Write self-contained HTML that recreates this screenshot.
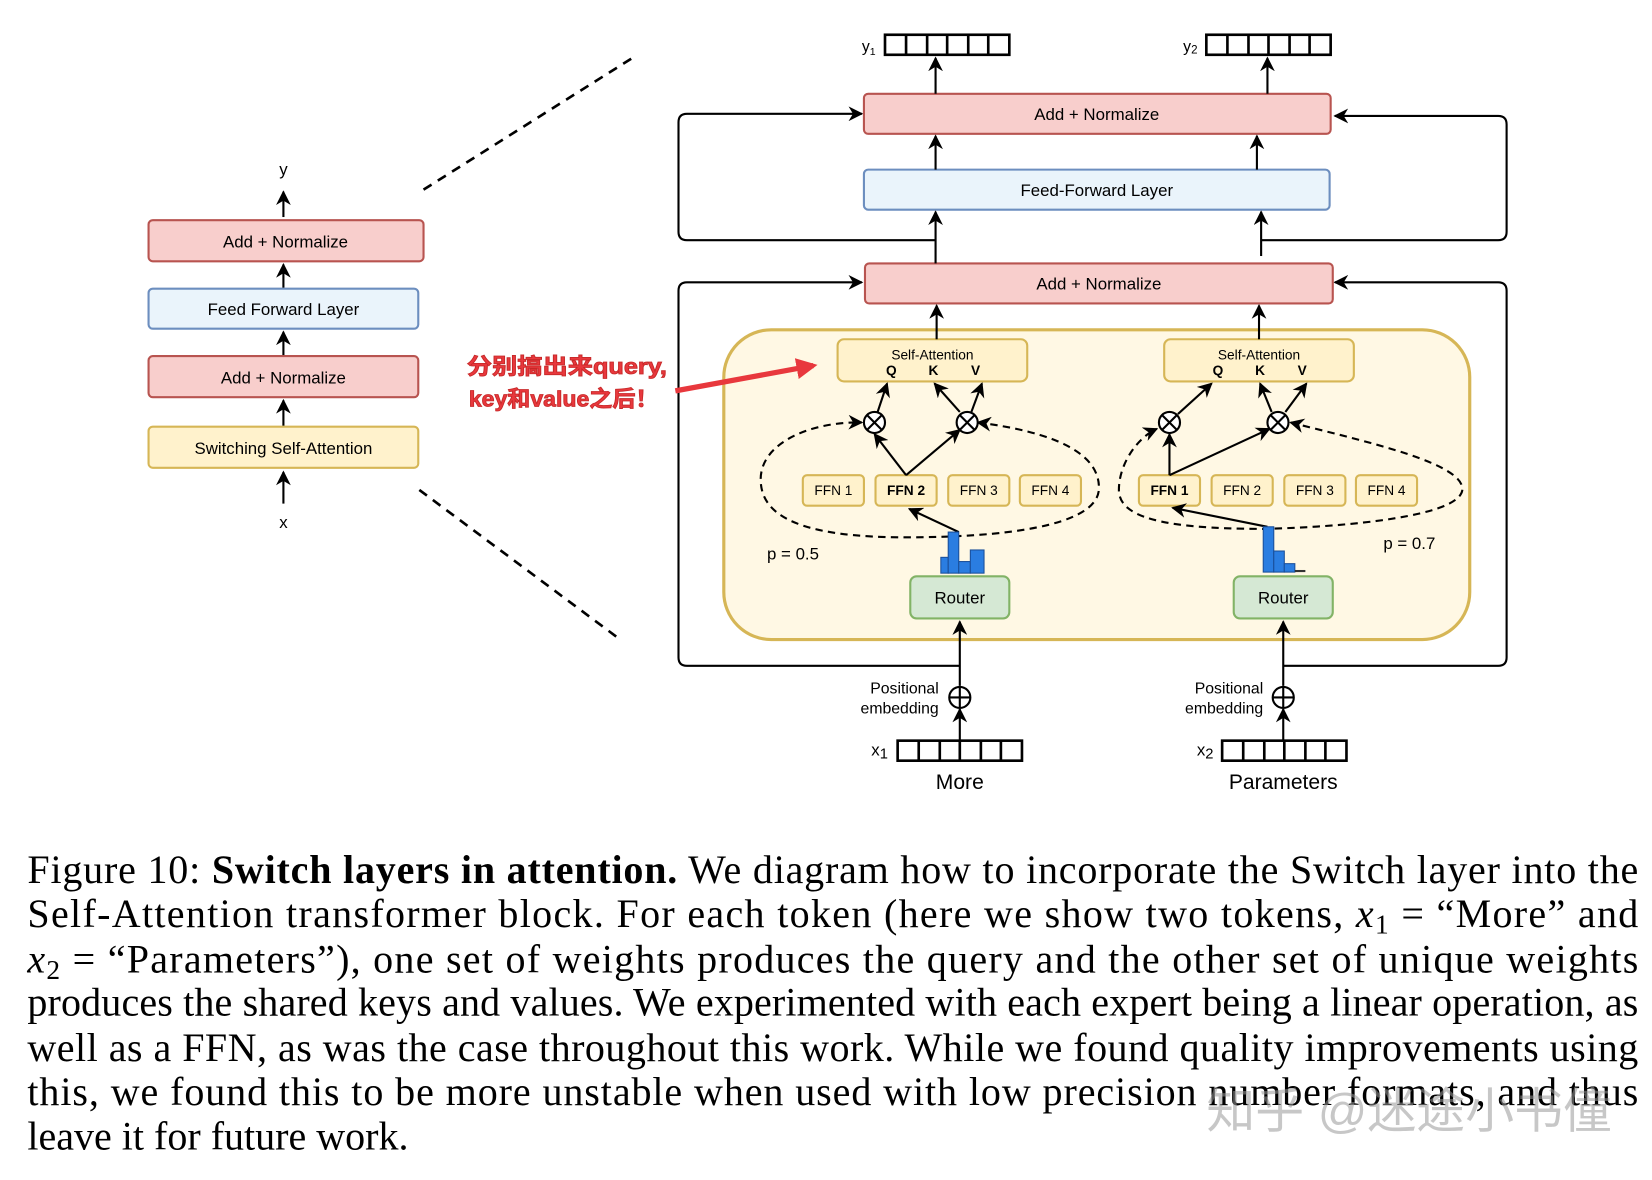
<!DOCTYPE html>
<html><head><meta charset="utf-8"><style>html,body{margin:0;padding:0;background:#fff}svg{display:block}</style></head>
<body>
<svg width="1652" height="1180" viewBox="0 0 1568 1120" preserveAspectRatio="none" xmlns="http://www.w3.org/2000/svg" font-family="Liberation Sans, sans-serif">
<defs>
<marker id="a" viewBox="0 0 10 10" refX="9" refY="5" markerWidth="7" markerHeight="7" orient="auto-start-reverse"><path d="M0,0 L10,5 L0,10 L3,5 z" fill="#000"/></marker>
<marker id="r" viewBox="0 0 10 10" refX="8" refY="5" markerWidth="4" markerHeight="4" orient="auto"><path d="M0,0 L10,5 L0,10 z" fill="#e8383d"/></marker>
</defs>
<g stroke="#000" stroke-width="2" fill="none">
<path d="M888,228 H652 Q644,228 644,220 V116 Q644,108 652,108 H818" marker-end="url(#a)"/>
<path d="M1197,228 H1422 Q1430,228 1430,220 V118 Q1430,110 1422,110 H1267" marker-end="url(#a)"/>
<path d="M911,632 H652 Q644,632 644,624 V276 Q644,268 652,268 H818" marker-end="url(#a)"/>
<path d="M1218,632 H1422 Q1430,632 1430,624 V276 Q1430,268 1422,268 H1267" marker-end="url(#a)"/>
</g>
<rect x="687" y="313" width="708" height="294" rx="45" fill="#fff8e4" stroke="#d6b656" stroke-width="3"/>
<g stroke="#000" stroke-width="2.5" fill="#fff">
<rect x="840" y="33" width="118" height="19"/><rect x="1145" y="33" width="118" height="19"/>
<rect x="852" y="703" width="118" height="19"/><rect x="1160" y="703" width="118" height="19"/>
</g>
<g stroke="#000" stroke-width="2.5">
<path d="M860,33V52M880,33V52M899,33V52M919,33V52M938,33V52"/>
<path d="M1165,33V52M1185,33V52M1204,33V52M1224,33V52M1243,33V52"/>
<path d="M872,703V722M892,703V722M911,703V722M931,703V722M950,703V722"/>
<path d="M1180,703V722M1200,703V722M1219,703V722M1239,703V722M1258,703V722"/>
</g>
<text x="818" y="49" font-size="15">y<tspan font-size="10" dy="3">1</tspan></text>
<text x="1123" y="49" font-size="15">y<tspan font-size="11" dy="2">2</tspan></text>
<text x="827" y="717" font-size="16">x<tspan font-size="14" dy="3">1</tspan></text>
<text x="1136" y="717" font-size="16">x<tspan font-size="14" dy="3">2</tspan></text>
<text x="911" y="749" font-size="20" text-anchor="middle">More</text>
<text x="1218" y="749" font-size="20" text-anchor="middle">Parameters</text>
<g stroke-width="2">
<rect x="820" y="89" width="443" height="38" rx="4" fill="#f8cecc" stroke="#b85450"/>
<rect x="820" y="161" width="442" height="38" rx="4" fill="#eaf4fb" stroke="#6c8ebf"/>
<rect x="821" y="250" width="444" height="38" rx="4" fill="#f8cecc" stroke="#b85450"/>
<rect x="795" y="322" width="180" height="40" rx="6" fill="#fff2cc" stroke="#d6b656"/>
<rect x="1105" y="322" width="180" height="40" rx="6" fill="#fff2cc" stroke="#d6b656"/>
<rect x="864" y="547" width="94" height="40" rx="6" fill="#d5e8d4" stroke="#82b366"/>
<rect x="1171" y="547" width="94" height="40" rx="6" fill="#d5e8d4" stroke="#82b366"/>
<g fill="#fff2cc" stroke="#d6b656">
<rect x="762" y="451" width="58" height="29" rx="4"/><rect x="831" y="451" width="58" height="29" rx="4"/><rect x="900" y="451" width="58" height="29" rx="4"/><rect x="968" y="451" width="58" height="29" rx="4"/>
<rect x="1081" y="451" width="58" height="29" rx="4"/><rect x="1150" y="451" width="58" height="29" rx="4"/><rect x="1219" y="451" width="58" height="29" rx="4"/><rect x="1287" y="451" width="58" height="29" rx="4"/>
</g>
</g>
<g font-size="16" text-anchor="middle">
<text x="1041" y="114">Add + Normalize</text>
<text x="1041" y="186">Feed-Forward Layer</text>
<text x="1043" y="275">Add + Normalize</text>
<text x="911" y="573">Router</text><text x="1218" y="573">Router</text>
</g>
<g font-size="13" text-anchor="middle">
<text x="885" y="341">Self-Attention</text><text x="1195" y="341">Self-Attention</text>
<g font-weight="bold"><text x="846" y="356">Q</text><text x="886" y="356">K</text><text x="926" y="356">V</text>
<text x="1156" y="356">Q</text><text x="1196" y="356">K</text><text x="1236" y="356">V</text></g>
<text x="791" y="470">FFN 1</text><text x="860" y="470" font-weight="bold">FFN 2</text><text x="929" y="470">FFN 3</text><text x="997" y="470">FFN 4</text>
<text x="1110" y="470" font-weight="bold">FFN 1</text><text x="1179" y="470">FFN 2</text><text x="1248" y="470">FFN 3</text><text x="1316" y="470">FFN 4</text>
</g>
<text x="728" y="531" font-size="16">p = 0.5</text>
<text x="1313" y="521" font-size="16">p = 0.7</text>
<g font-size="15" text-anchor="end"><text x="891" y="658">Positional</text><text x="891" y="677">embedding</text>
<text x="1199" y="658">Positional</text><text x="1199" y="677">embedding</text></g>
<g stroke="#000" stroke-width="2" fill="none" marker-end="url(#a)">
<path d="M888,89V55"/><path d="M1203,89V55"/>
<path d="M888,161V129"/><path d="M1193,161V129"/>
<path d="M888,250V201"/><path d="M1197,243V201"/>
<path d="M889,322V290"/><path d="M1195,322V290"/>
<path d="M833,391L842,364"/><path d="M911,391L887,364"/><path d="M922,391L932,364"/>
<path d="M1118,393L1150,364"/><path d="M1207,391L1196,364"/><path d="M1220,391L1240,364"/>
<path d="M860,451L830,412"/><path d="M860,451L911,408"/>
<path d="M1110,451V412"/><path d="M1110,451L1205,407"/>
<path d="M910,505L863,483"/><path d="M1203,500L1113,482"/>
<path d="M911,703V673"/><path d="M911,651V590"/>
<path d="M1218,703V673"/><path d="M1218,651V590"/>
</g>
<g stroke="#000" stroke-width="2" fill="none" stroke-dasharray="7,5">
<path d="M928,401 C1000,410 1045,430 1043,465 C1040,500 950,510 860,510 C760,510 722,490 722,455 C722,420 770,400 818,401" marker-end="url(#a)" marker-start="url(#a)"/>
<path d="M1225,401 C1300,420 1390,440 1388,465 C1385,490 1280,500 1200,502 C1100,502 1062,490 1062,465 C1062,440 1080,415 1098,407" marker-end="url(#a)" marker-start="url(#a)"/>
</g>
<g stroke="#000" stroke-width="2" fill="#fff">
<circle cx="830" cy="401" r="10"/><circle cx="918" cy="401" r="10"/><circle cx="1110" cy="401" r="10"/><circle cx="1213" cy="401" r="10"/>
<circle cx="911" cy="662" r="10"/><circle cx="1218" cy="662" r="10"/>
</g>
<g stroke="#000" stroke-width="2">
<path d="M823,394L837,408M837,394L823,408M911,394L925,408M925,394L911,408M1103,394L1117,408M1117,394L1103,408M1206,394L1220,408M1220,394L1206,408"/>
<path d="M901,662H921M911,652V672M1208,662H1228M1218,652V672"/>
</g>
<g fill="#2a7de1" stroke="#1a4f9a" stroke-width="1">
<rect x="893" y="529" width="7" height="15"/><rect x="900" y="505" width="10" height="39"/><rect x="910" y="533" width="11" height="11"/><rect x="921" y="522" width="13" height="22"/>
<rect x="1199" y="500" width="10" height="43"/><rect x="1209" y="523" width="10" height="20"/><rect x="1219" y="535" width="10" height="8"/>
</g>
<path d="M1229,542H1239" stroke="#333" stroke-width="2"/>
<g stroke-width="2">
<rect x="141" y="209" width="261" height="39" rx="4" fill="#f8cecc" stroke="#b85450"/>
<rect x="141" y="274" width="256" height="38" rx="4" fill="#eaf4fb" stroke="#6c8ebf"/>
<rect x="141" y="338" width="256" height="39" rx="4" fill="#f8cecc" stroke="#b85450"/>
<rect x="141" y="405" width="256" height="39" rx="4" fill="#fff2cc" stroke="#d6b656"/>
</g>
<g font-size="16" text-anchor="middle">
<text x="271" y="235">Add + Normalize</text><text x="269" y="299">Feed Forward Layer</text>
<text x="269" y="364">Add + Normalize</text><text x="269" y="431">Switching Self-Attention</text>
<text x="269" y="166">y</text><text x="269" y="501">x</text>
</g>
<g stroke="#000" stroke-width="2" marker-end="url(#a)">
<path d="M269,206V182"/><path d="M269,273V251"/><path d="M269,337V315"/><path d="M269,404V380"/><path d="M269,478V448"/>
</g>
<g stroke="#000" stroke-width="2.5" stroke-dasharray="9,7">
<path d="M402,180L605,52"/><path d="M398,465L590,608"/>
</g>
<path d="M641,371L772,347" stroke="#e8383d" stroke-width="5" marker-end="url(#r)"/>
<g font-family="Liberation Sans, Noto Sans CJK SC, sans-serif" font-size="21" font-weight="bold" fill="#e8383d" stroke="#c62828" stroke-width="0.8" text-anchor="middle">
<text x="538" y="355" textLength="190" lengthAdjust="spacingAndGlyphs">分别搞出来query,</text>
<text x="535" y="386" textLength="180" lengthAdjust="spacingAndGlyphs">key和value之后！</text>
</g>
<g font-family="Liberation Serif, serif" font-size="38" fill="#000">
<text x="26" y="838" textLength="1529" lengthAdjust="spacing">Figure 10: <tspan font-weight="bold">Switch layers in attention.</tspan> We diagram how to incorporate the Switch layer into the</text>
<text x="26" y="880" textLength="1529" lengthAdjust="spacing">Self-Attention transformer block. For each token (here we show two tokens, <tspan font-style="italic">x</tspan><tspan font-size="26" dy="6">1</tspan><tspan dy="-6"> = “More” and</tspan></text>
<text x="26" y="923" textLength="1529" lengthAdjust="spacing"><tspan font-style="italic">x</tspan><tspan font-size="26" dy="6">2</tspan><tspan dy="-6"> = “Parameters”), one set of weights produces the query and the other set of unique weights</tspan></text>
<text x="26" y="964" textLength="1529" lengthAdjust="spacing">produces the shared keys and values. We experimented with each expert being a linear operation, as</text>
<text x="26" y="1007" textLength="1529" lengthAdjust="spacing">well as a FFN, as was the case throughout this work. While we found quality improvements using</text>
<text x="26" y="1049" textLength="1529" lengthAdjust="spacing">this, we found this to be more unstable when used with low precision number formats, and thus</text>
<text x="26" y="1091">leave it for future work.</text>
</g>
<text x="1145" y="1070" font-family="Liberation Sans, Noto Sans CJK SC, sans-serif" font-size="46" fill="#999" fill-opacity="0.55" textLength="385" lengthAdjust="spacingAndGlyphs">知乎 @迷途小书僮</text>
</svg>
</body></html>
